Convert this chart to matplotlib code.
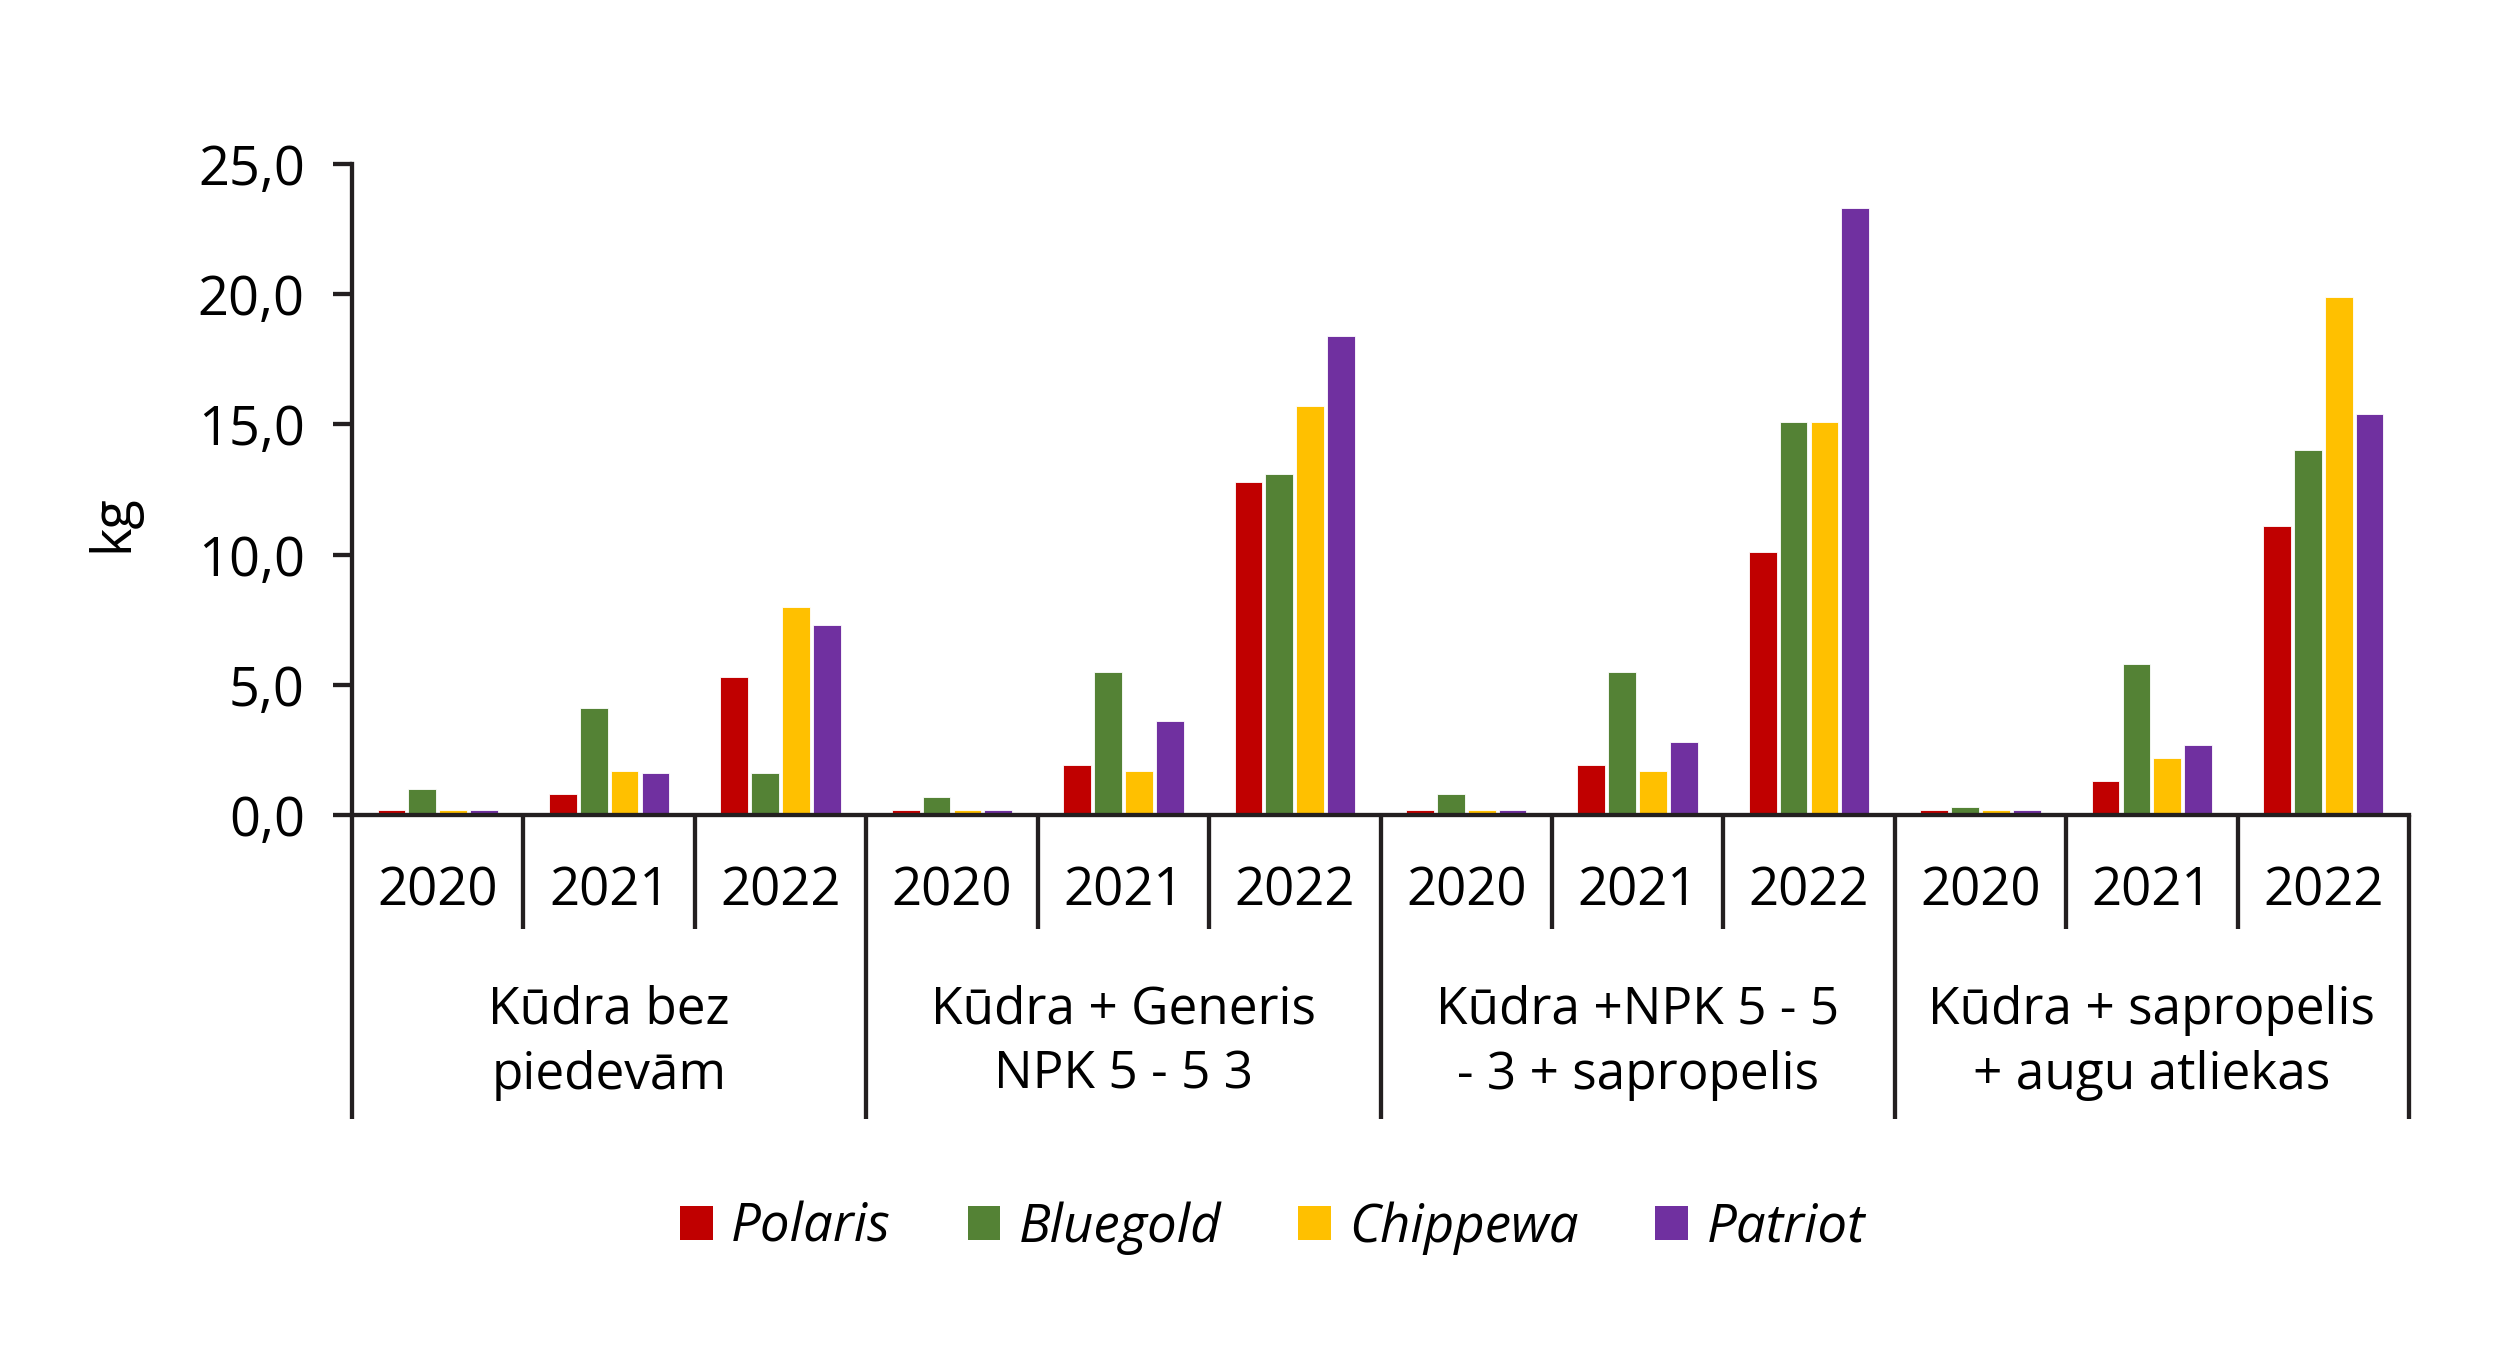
import matplotlib
matplotlib.use('Agg')
from matplotlib import pyplot as plt
from matplotlib.patches import Patch
import matplotlib.transforms as mtransforms
import numpy as np

plt.rcParams['font.family'] = ['Open Sans', 'DejaVu Sans']

# data
groups = ['Kūdra bez\npiedevām', 'Kūdra + Generis\nNPK 5 - 5 3',
          'Kūdra +NPK 5 - 5\n- 3 + sapropelis', 'Kūdra + sapropelis\n+ augu atliekas']
years = ['2020', '2021', '2022']
series = ['Polaris', 'Bluegold', 'Chippewa', 'Patriot']
colors = ['#C00000', '#548235', '#FFC000', '#7030A0']

polaris = [0.2, 0.8, 5.3, 0.2, 1.9, 12.8, 0.2, 1.9, 10.1, 0.2, 1.3, 11.1]
bluegold = [1.0, 4.1, 1.6, 0.7, 5.5, 13.1, 0.8, 5.5, 15.1, 0.3, 5.8, 14.0]
chippewa = [0.2, 1.7, 8.0, 0.2, 1.7, 15.7, 0.2, 1.7, 15.1, 0.2, 2.2, 19.9]
patriot = [0.2, 1.6, 7.3, 0.2, 3.6, 18.4, 0.2, 2.8, 23.3, 0.2, 2.7, 15.4]
values = [polaris, bluegold, chippewa, patriot]

yticks = [0, 5, 10, 15, 20, 25]
ytick_labels = ['0,0', '5,0', '10,0', '15,0', '20,0', '25,0']

ink = '#231f20'
lw = 3.1

fig = plt.figure(figsize=(25, 13.72), dpi=100)
ax = fig.add_axes([0.1408, 0.406, 0.8228, 0.4745])

x = np.arange(len(groups) * len(years))
width = 0.162
step = 0.18
for i, (name, vals) in enumerate(zip(series, values)):
    ax.bar(x + (i - 1.5) * step, vals, width=width, color=colors[i],
           edgecolor='white', linewidth=0.6, label=name, zorder=2)

ax.set_xlim(-0.5, len(x) - 0.5)
ax.set_ylim(0, 25)
ax.set_yticks(yticks)
ax.set_yticklabels(ytick_labels)
ax.set_xticks([])
ax.tick_params(axis='y', length=14, width=lw, color=ink, labelsize=39, pad=20)

for s in ['top', 'right']:
    ax.spines[s].set_visible(False)
for s in ['left', 'bottom']:
    ax.spines[s].set_color(ink)
    ax.spines[s].set_linewidth(lw)
    ax.spines[s].set_zorder(3)

# category axis: separators and labels
trans = mtransforms.blended_transform_factory(ax.transData, ax.transAxes)
for k in range(len(x) + 1):
    pos = k - 0.5
    bottom = -0.467 if k % 3 == 0 else -0.175
    ax.plot([pos, pos], [0, bottom], transform=trans, color=ink, lw=lw,
            clip_on=False, solid_capstyle='butt')

for k in range(len(x)):
    ax.text(k, -0.118, years[k % 3], transform=trans, ha='center', va='center',
            fontsize=38)

for g, label in enumerate(groups):
    ax.text(g * 3 + 1, -0.35, label, transform=trans, ha='center', va='center',
            fontsize=37, linespacing=1.36)

fig.text(0.045, 0.619, 'kg', rotation=90, ha='center', va='center', fontsize=39)

handles = [Patch(facecolor=c, edgecolor='none') for c in colors]
fig.legend(handles, series, loc='center', bbox_to_anchor=(0.509, 0.105), ncol=4,
           frameon=False, prop={'style': 'italic', 'size': 38},
           handlelength=0.62, handleheight=0.62, handletextpad=0.35,
           columnspacing=1.45)

fig.savefig('out.png', dpi=100, facecolor='white')
